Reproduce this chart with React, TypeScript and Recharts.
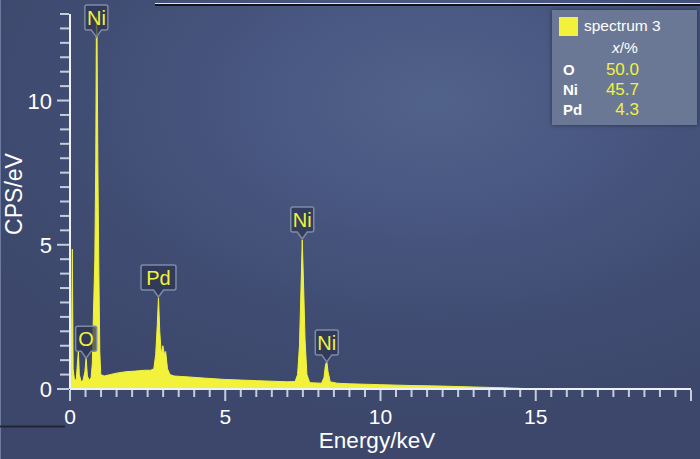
import { Area, AreaChart, Legend, ReferenceDot, XAxis, YAxis } from "recharts";

// EDS spectrum (keV / counts per eV)
const energy = [
  0, 0.04, 0.075, 0.1, 0.14, 0.2, 0.24, 0.27, 0.3, 0.36, 0.42, 0.48, 0.52, 0.56, 0.62, 0.68, 0.72, 0.75, 0.8,
  0.83, 0.85, 0.87, 0.9, 0.93, 0.96, 0.99, 1.1, 1.3, 1.5, 1.8, 2.1, 2.4, 2.6, 2.7, 2.76, 2.81, 2.85, 2.89, 2.94,
  2.99, 3.04, 3.08, 3.14, 3.22, 3.35, 3.8, 4.3, 5, 5.5, 6, 6.5, 7, 7.25, 7.33, 7.39, 7.44, 7.48, 7.52, 7.57, 7.63,
  7.72, 8.1, 8.18, 8.23, 8.27, 8.31, 8.38, 8.6, 9, 10, 11, 12, 13, 14, 14.8, 15.5, 20,
];
const cps = [
  0, 0.5, 4.85, 0.7, 0.35, 0.3, 0.9, 1.3, 0.5, 0.25, 0.3, 0.6, 1.1, 0.45, 0.3, 0.4, 0.9, 2.4, 4.5,
  8, 12.9, 12.4, 7.5, 4, 1.3, 0.5, 0.45, 0.5, 0.55, 0.6, 0.62, 0.65, 0.65, 0.7, 1.2, 2.2, 3.2, 2.0, 1.2,
  1.5, 1.2, 1.3, 0.7, 0.5, 0.45, 0.42, 0.38, 0.33, 0.31, 0.29, 0.27, 0.25, 0.26, 0.5, 1.5, 3.5, 5.17, 3.7, 1.7, 0.5,
  0.22, 0.2, 0.4, 0.85, 0.95, 0.6, 0.25, 0.2, 0.18, 0.15, 0.12, 0.1, 0.07, 0.04, 0.01, 0, 0,
];

const xTicks = [
  0, 0.5, 1, 1.5, 2, 2.5, 3, 3.5, 4, 4.5, 5, 5.5, 6, 6.5, 7, 7.5, 8, 8.5, 9, 9.5, 10, 10.5, 11, 11.5, 12, 12.5,
  13, 13.5, 14, 14.5, 15, 15.5, 16, 16.5, 17, 17.5, 18, 18.5, 19, 19.5, 20,
];
const xMajor = [0, 5, 10, 15, 20];
const xLabelled = [0, 5, 10, 15];
const yTicks = [
  0, 0.5, 1, 1.5, 2, 2.5, 3, 3.5, 4, 4.5, 5, 5.5, 6, 6.5, 7, 7.5, 8, 8.5, 9, 9.5, 10, 10.5, 11, 11.5, 12, 12.5, 13,
];
const yLabelled = [0, 5, 10];

const peakNames = ["Ni", "O", "Pd", "Ni", "Ni"];
const peakEnergy = [0.85, 0.52, 2.85, 7.48, 8.27];
const peakTip = [12.2, 1.07, 3.19, 5.2, 0.94];

const spectrumName = "spectrum 3";
const elements = ["O", "Ni", "Pd"];
const atomicPct = ["50.0", "45.7", "4.3"];

const data = energy.map((e, i) => ({ e, cps: cps[i] }));

const YELLOW = "#f2f23c";
const FONT = "'Liberation Sans', Arial, sans-serif";

function XTick({ x, y, payload }: any) {
  const v = payload.value;
  const major = xMajor.includes(v);
  return (
    <g>
      <line x1={x} x2={x} y1={y + 1} y2={y + (major ? 12 : 8)} stroke="#c5cddc" strokeWidth={2} />
      {xLabelled.includes(v) && (
        <text x={x} y={y + 35} textAnchor="middle" fill="#ffffff" fontSize={21} fontFamily={FONT}>
          {v}
        </text>
      )}
    </g>
  );
}

function YTick({ x, y, payload }: any) {
  const v = payload.value;
  const major = yLabelled.includes(v);
  return (
    <g>
      <line x1={x - (major ? 13 : 10)} x2={x - 1} y1={y} y2={y} stroke="#c5cddc" strokeWidth={2} />
      {major && (
        <text x={x - 18} y={y + 8} textAnchor="end" fill="#ffffff" fontSize={22} fontFamily={FONT}>
          {v}
        </text>
      )}
    </g>
  );
}

function PeakTag({ cx, cy, text }: { cx: number; cy: number; text: string }) {
  const w = text === "Pd" ? 35 : text === "O" ? 21 : 23;
  const h = 25;
  const top = cy - 7 - h;
  const l = cx - w / 2;
  const r = cx + w / 2;
  const b = cy - 7;
  const d = `M${l + 2},${top} L${r - 2},${top} Q${r},${top} ${r},${top + 2} L${r},${b - 2} Q${r},${b} ${r - 2},${b}
    L${cx + 5},${b} L${cx},${cy} L${cx - 5},${b} L${l + 2},${b} Q${l},${b} ${l},${b - 2} L${l},${top + 2} Q${l},${top} ${l + 2},${top} Z`;
  return (
    <g>
      <path d={d} fill="rgba(44,52,80,0.72)" stroke="#7e8aa6" strokeWidth={1.5} />
      <text x={cx} y={top + 20} textAnchor="middle" fill={YELLOW} fontSize={20} fontFamily={FONT}>
        {text}
      </text>
    </g>
  );
}

function LegendBox() {
  return (
    <div
      style={{
        width: 145,
        height: 115,
        boxSizing: "border-box",
        background: "#6b7895",
        boxShadow: "0 0 4px rgba(20,25,40,0.6)",
        position: "relative",
        fontFamily: FONT,
      }}
    >
      <div style={{ position: "absolute", left: 7, top: 7, width: 19, height: 19, background: YELLOW }} />
      <div style={{ position: "absolute", left: 32, top: 6, fontSize: 15.5, color: "#ffffff", lineHeight: "20px" }}>
        {spectrumName}
      </div>
      <div style={{ position: "absolute", left: 60, top: 28, fontSize: 15.5, color: "#ffffff", lineHeight: "20px" }}>
        <i>x</i>/%
      </div>
      {elements.map((el, i) => (
        <div key={el} style={{ position: "absolute", left: 0, top: 50 + i * 20, width: 145, height: 20 }}>
          <span style={{ position: "absolute", left: 11, fontSize: 15, color: "#ffffff", lineHeight: "20px", fontWeight: 600 }}>
            {el}
          </span>
          <span
            style={{
              position: "absolute",
              right: 58,
              fontSize: 17,
              color: YELLOW,
              lineHeight: "20px",
              textAlign: "right",
            }}
          >
            {atomicPct[i]}
          </span>
        </div>
      ))}
    </div>
  );
}

export default function App() {
  return (
    <div
      style={{
        position: "relative",
        width: 700,
        height: 459,
        overflow: "hidden",
        background:
          "radial-gradient(ellipse 75% 70% at 62% 22%, #51628a 0%, #485781 35%, #404c72 70%, #3c476b 100%)",
        boxShadow: "inset 1px 0 0 #6e7ba0",
      }}
    >
      <style>{"body{margin:0}"}</style>
      <AreaChart width={700} height={459} data={data} margin={{ top: 14, right: 9, left: 0, bottom: 0 }}>
        <XAxis
          type="number"
          dataKey="e"
          domain={[0, 20]}
          ticks={xTicks}
          interval={0}
          tick={<XTick />}
          tickSize={0}
          tickMargin={0}
          tickLine={false}
          height={70}
          axisLine={{ stroke: "#eef1f6", strokeWidth: 2 }}
          allowDataOverflow
        />
        <YAxis
          type="number"
          domain={[0, 13]}
          ticks={yTicks}
          interval={0}
          tick={<YTick />}
          tickSize={0}
          tickMargin={0}
          tickLine={false}
          width={70}
          axisLine={{ stroke: "#eef1f6", strokeWidth: 2 }}
          allowDataOverflow
        />
        <Area
          type="linear"
          dataKey="cps"
          name={spectrumName}
          stroke={YELLOW}
          strokeWidth={1}
          fill={YELLOW}
          fillOpacity={1}
          isAnimationActive={false}
        />
        {peakNames.map((name, i) => (
          <ReferenceDot
            key={i}
            x={peakEnergy[i]}
            y={peakTip[i]}
            shape={(p: any) => <PeakTag cx={p.cx} cy={p.cy} text={name} />}
          />
        ))}
        <Legend
          layout="horizontal"
          verticalAlign="middle"
          align="center"
          content={() => <LegendBox />}
          wrapperStyle={{ left: 552, top: 10, width: 145, height: 115 }}
        />
      </AreaChart>
      <svg width={700} height={459} style={{ position: "absolute", left: 0, top: 0, pointerEvents: "none" }}>
        <text
          x={0}
          y={0}
          transform="translate(22 194) rotate(-90)"
          textAnchor="middle"
          fill="#ffffff"
          fontSize={23}
          fontFamily={FONT}
        >
          CPS/eV
        </text>
        <text x={377} y={448} textAnchor="middle" fill="#ffffff" fontSize={22.5} fontFamily={FONT}>
          Energy/keV
        </text>
        <line x1={155} x2={700} y1={3.5} y2={3.5} stroke="#dfe2ea" strokeWidth={1} />
        <line x1={155} x2={700} y1={5} y2={5} stroke="#14151b" strokeWidth={2} />
        <line x1={0} x2={65} y1={426.5} y2={426.5} stroke="#23262f" strokeWidth={2} />
      </svg>
    </div>
  );
}
